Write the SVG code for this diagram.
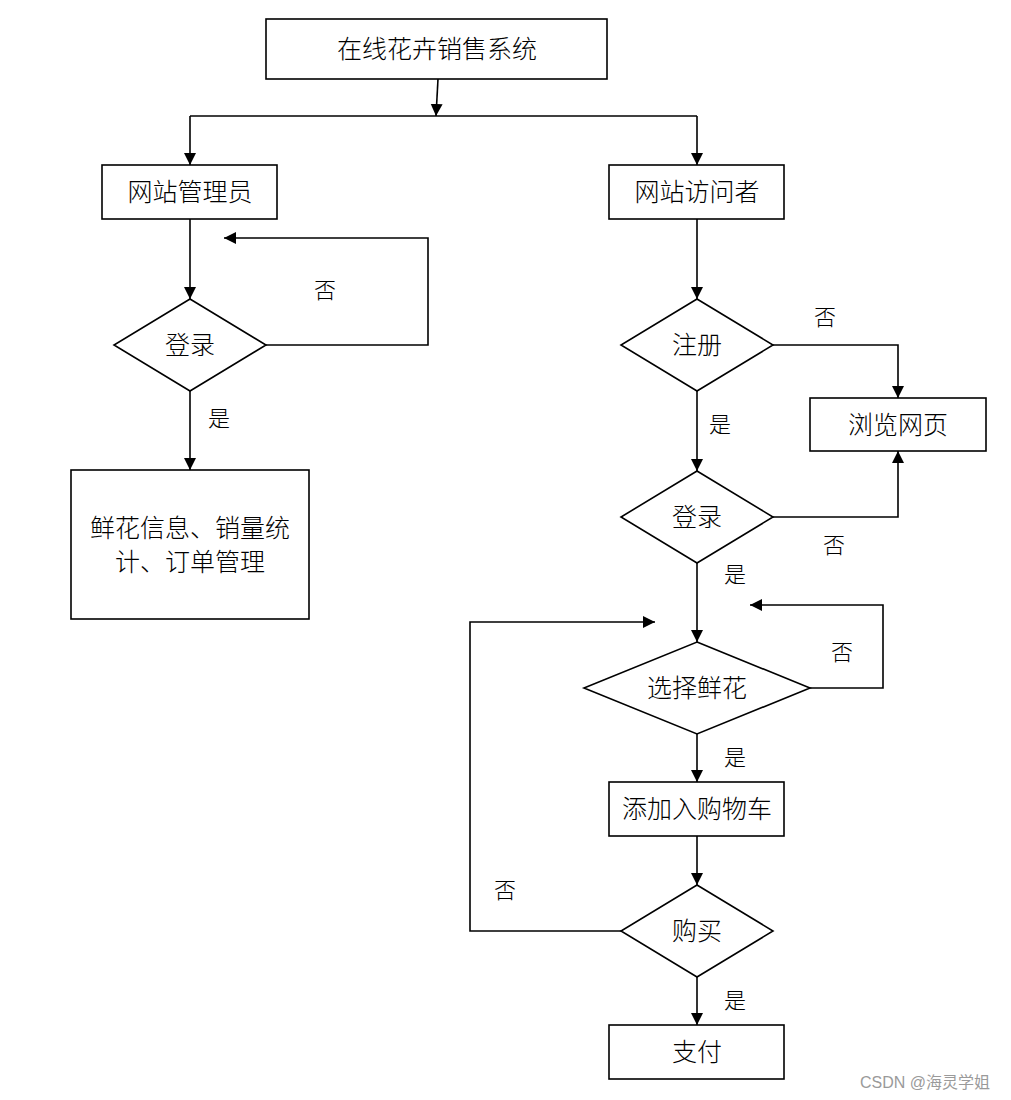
<svg xmlns="http://www.w3.org/2000/svg" width="1011" height="1100" viewBox="0 0 1011 1100">
<style>
.box{fill:#fff;stroke:#000;stroke-width:1.6}
.t{font-family:"Liberation Serif","Noto Sans CJK SC",serif;font-size:25px;font-weight:300;fill:#000;text-anchor:middle;dominant-baseline:central}
.l{font-family:"Liberation Serif","Noto Sans CJK SC",serif;font-size:22px;font-weight:300;fill:#000;text-anchor:middle;dominant-baseline:central}
.c{fill:none;stroke:#000;stroke-width:1.6}
.wm{font-family:"Liberation Sans","Noto Sans CJK SC",sans-serif;font-size:16px;fill:#9a9a9a}
</style>
<defs>
<marker id="a" markerUnits="userSpaceOnUse" markerWidth="12" markerHeight="14" viewBox="0 0 12 14" refX="12" refY="7" orient="auto">
<path d="M0,1 L12,7 L0,13 Z" fill="#000"/>
</marker>
</defs>
<rect width="1011" height="1100" fill="#fff"/>
<g id="connectors">
<path class="c" d="M438,79 L436,116" marker-end="url(#a)"/>
<path class="c" d="M190,116 L697,116"/>
<path class="c" d="M190,116 L190,165" marker-end="url(#a)"/>
<path class="c" d="M697,116 L697,165" marker-end="url(#a)"/>
<path class="c" d="M190,219 L190,299" marker-end="url(#a)"/>
<path class="c" d="M266,345 L428,345 L428,238 L224,238" marker-end="url(#a)"/>
<path class="c" d="M190,391 L190,470" marker-end="url(#a)"/>
<path class="c" d="M697,219 L697,299" marker-end="url(#a)"/>
<path class="c" d="M773,345 L898,345 L898,398" marker-end="url(#a)"/>
<path class="c" d="M697,391 L697,471" marker-end="url(#a)"/>
<path class="c" d="M773,517 L898,517 L898,451" marker-end="url(#a)"/>
<path class="c" d="M697,563 L697,642" marker-end="url(#a)"/>
<path class="c" d="M810,688 L883,688 L883,605 L750,605" marker-end="url(#a)"/>
<path class="c" d="M697,734 L697,782" marker-end="url(#a)"/>
<path class="c" d="M697,836 L697,885" marker-end="url(#a)"/>
<path class="c" d="M621,931 L470,931 L470,622 L655,622" marker-end="url(#a)"/>
<path class="c" d="M697,977 L697,1025" marker-end="url(#a)"/>
<text class="l" x="325" y="290">否</text>
<text class="l" x="219" y="418">是</text>
<text class="l" x="825" y="317">否</text>
<text class="l" x="720" y="424">是</text>
<text class="l" x="834" y="545">否</text>
<text class="l" x="735" y="574">是</text>
<text class="l" x="842" y="652">否</text>
<text class="l" x="735" y="757">是</text>
<text class="l" x="505" y="890">否</text>
<text class="l" x="735" y="1000">是</text>
</g>
<g id="system">
<rect class="box" x="266" y="19" width="341" height="60"/>
<text class="t" x="437" y="49">在线花卉销售系统</text>
</g>
<g id="admin">
<rect class="box" x="102" y="165" width="175" height="54"/>
<text class="t" x="190" y="192">网站管理员</text>
</g>
<g id="visitor">
<rect class="box" x="609" y="165" width="175" height="54"/>
<text class="t" x="697" y="192">网站访问者</text>
</g>
<g id="admin-login">
<polygon class="box" points="190,299 266,345 190,391 114,345"/>
<text class="t" x="190" y="345">登录</text>
</g>
<g id="admin-functions">
<rect class="box" x="71" y="470" width="238" height="149"/>
<text class="t" x="190" y="528">鲜花信息、销量统</text>
<text class="t" x="190" y="562">计、订单管理</text>
</g>
<g id="register">
<polygon class="box" points="697,299 773,345 697,391 621,345"/>
<text class="t" x="697" y="345">注册</text>
</g>
<g id="browse">
<rect class="box" x="810" y="398" width="176" height="53"/>
<text class="t" x="898" y="425">浏览网页</text>
</g>
<g id="visitor-login">
<polygon class="box" points="697,471 773,517 697,563 621,517"/>
<text class="t" x="697" y="517">登录</text>
</g>
<g id="choose">
<polygon class="box" points="697,642 810,688 697,734 584,688"/>
<text class="t" x="697" y="688">选择鲜花</text>
</g>
<g id="cart">
<rect class="box" x="609" y="782" width="175" height="54"/>
<text class="t" x="697" y="809">添加入购物车</text>
</g>
<g id="buy">
<polygon class="box" points="697,885 773,931 697,977 621,931"/>
<text class="t" x="697" y="931">购买</text>
</g>
<g id="pay">
<rect class="box" x="609" y="1025" width="175" height="54"/>
<text class="t" x="697" y="1052">支付</text>
</g>
<text class="wm" x="860" y="1088">CSDN @海灵学姐</text>
</svg>
